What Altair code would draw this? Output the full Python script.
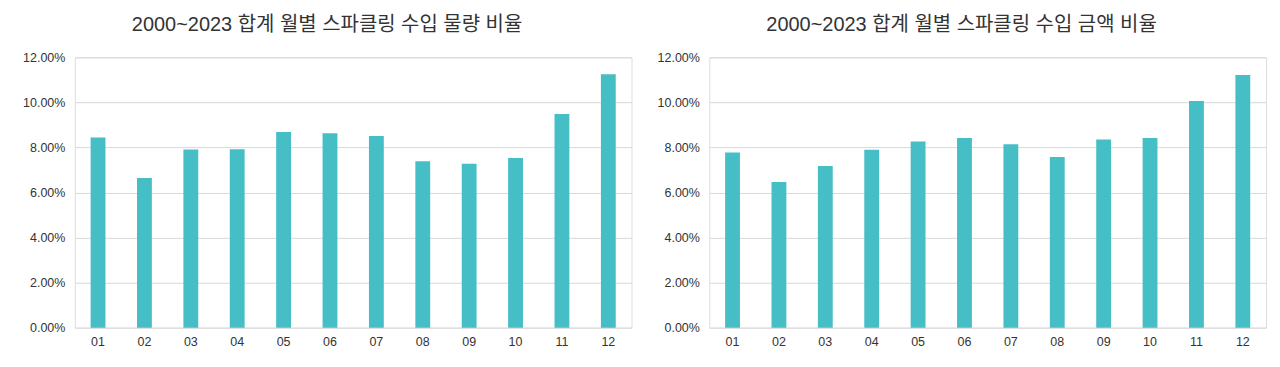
import altair as alt
import pandas as pd

months = ["01", "02", "03", "04", "05", "06", "07", "08", "09", "10", "11", "12"]
volume_share = [8.44, 6.64, 7.91, 7.92, 8.68, 8.63, 8.51, 7.39, 7.27, 7.53, 9.48, 11.25]
value_share = [7.77, 6.47, 7.18, 7.90, 8.26, 8.42, 8.14, 7.58, 8.35, 8.42, 10.06, 11.21]

title_left = "2000~2023 합계 월별 스파클링 수입 물량 비율"
title_right = "2000~2023 합계 월별 스파클링 수입 금액 비율"

TFONT = "Liberation Sans, Noto Sans CJK KR"
LFONT = "Liberation Sans"
BAR = "#46BEC6"


def panel(values, title):
    df = pd.DataFrame({"month": months, "share": [v / 100 for v in values]})
    return (
        alt.Chart(df, title=alt.Title(title, fontSize=20, fontWeight="normal", color="#333333",
                                      font=TFONT, anchor="middle", frame="bounds", offset=16))
        .mark_bar(color=BAR)
        .encode(
            x=alt.X("month:N", sort=months, title=None,
                    scale=alt.Scale(paddingInner=0.68, paddingOuter=0.34),
                    axis=alt.Axis(labelAngle=0, ticks=False, domain=False, labelPadding=8,
                                  labelFontSize=12.5, labelColor="#333333", labelFont=LFONT)),
            y=alt.Y("share:Q", title=None,
                    scale=alt.Scale(domain=[0, 0.12], nice=False),
                    axis=alt.Axis(format=".2%", values=[0, 0.02, 0.04, 0.06, 0.08, 0.10, 0.12],
                                  ticks=False, domain=False, labelPadding=10,
                                  labelFontSize=12.5, labelColor="#333333", labelFont=LFONT,
                                  gridColor="#d9d9d9")),
        )
        .properties(width=558, height=271)
    )


chart = (
    alt.hconcat(panel(volume_share, title_left), panel(value_share, title_right), spacing=24)
    .configure_view(stroke=None)
    .configure(padding={"left": 14, "top": 6, "right": 5, "bottom": 5})
)

chart.save("out.html", embed_options={"renderer": "svg", "actions": False})
